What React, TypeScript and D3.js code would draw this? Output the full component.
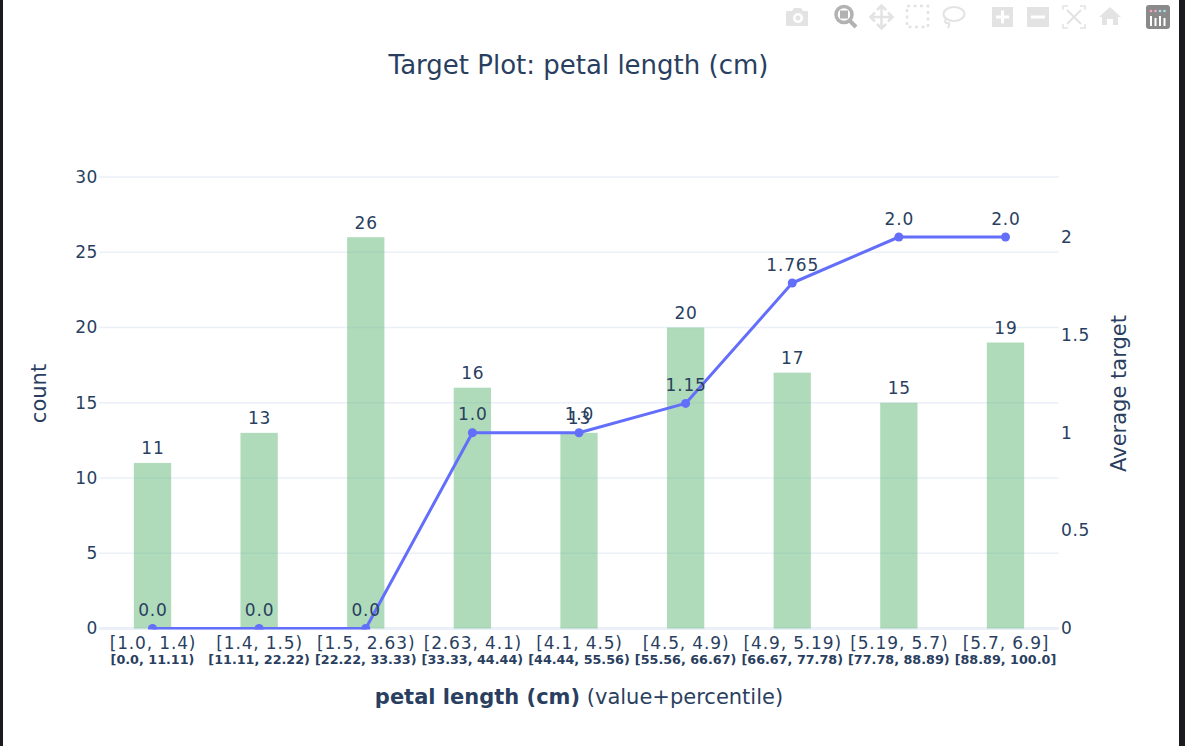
import React from "react";
import * as d3 from "d3";

const binLabels = ["[1.0, 1.4)", "[1.4, 1.5)", "[1.5, 2.63)", "[2.63, 4.1)", "[4.1, 4.5)", "[4.5, 4.9)", "[4.9, 5.19)", "[5.19, 5.7)", "[5.7, 6.9]"];
const percentileLabels = ["[0.0, 11.11)", "[11.11, 22.22)", "[22.22, 33.33)", "[33.33, 44.44)", "[44.44, 55.56)", "[55.56, 66.67)", "[66.67, 77.78)", "[77.78, 88.89)", "[88.89, 100.0]"];
const counts = [11, 13, 26, 16, 13, 20, 17, 15, 19];
const avgTarget = [0, 0, 0, 1, 1, 1.15, 1.765, 2, 2];
const avgLabels = ["0.0", "0.0", "0.0", "1.0", "1.0", "1.15", "1.765", "2.0", "2.0"];
const countTicks = [0, 5, 10, 15, 20, 25, 30];
const targetTicks = [0, 0.5, 1, 1.5, 2];

const INK = "#2a3f5f";
const FONT = "'DejaVu Sans', Verdana, sans-serif";
const ICON = "#e3e3e3";

function Toolbar() {
  return (
    <g>
      {/* camera */}
      <g fill={ICON}>
        <path fillRule="evenodd" d="M787 11h5l2-3h7l2 3h4a1 1 0 0 1 1 1v13a1 1 0 0 1-1 1h-20a1 1 0 0 1-1-1V12a1 1 0 0 1 1-1zM798 13a5 5 0 1 0 .01 0zM798 15.500a2.500 2.500 0 1 1-.01 0z" />
      </g>
      {/* zoom (active) */}
      <g fill="none" stroke="#b2b2b2">
        <circle cx="844" cy="14.500" r="8" strokeWidth="3.500" />
        <rect x="840" y="10.500" width="8" height="8" fill="#b2b2b2" stroke="none" />
        <line x1="850" y1="21" x2="856" y2="27" strokeWidth="4" />
      </g>
      {/* pan */}
      <g fill="none" stroke={ICON} strokeWidth="2.500">
        <line x1="871" y1="17" x2="892" y2="17" />
        <line x1="881.500" y1="6" x2="881.500" y2="28" />
        <path d="M877 10l4.500-4.500 4.500 4.500M877 24l4.500 4.500 4.500-4.500M875 12.500l-4.500 4.500 4.500 4.500M888 12.500l4.500 4.500-4.500 4.500" />
      </g>
      {/* box select */}
      <rect x="907" y="6" width="21" height="21" fill="none" stroke={ICON} strokeWidth="2.500" strokeDasharray="3 3.500" />
      {/* lasso */}
      <g fill="none" stroke={ICON} strokeWidth="2">
        <ellipse cx="954" cy="14" rx="10.500" ry="7" />
        <path d="M946 19c-2 3 0 5 3 4c1 2 0 3-1 5" />
      </g>
      {/* zoom in */}
      <rect x="992" y="7" width="21" height="20" fill={ICON} />
      <path d="M996 17h13M1002.500 10.500v13" stroke="#fff" strokeWidth="3" />
      {/* zoom out */}
      <rect x="1027" y="7" width="22" height="20" fill={ICON} />
      <path d="M1031 17h14" stroke="#fff" strokeWidth="3" />
      {/* autoscale */}
      <g fill="none" stroke={ICON} strokeWidth="1.500">
        <path d="M1063 10V6h5M1080 6h5v4M1085 24v4h-5M1068 28h-5v-4" />
        <path d="M1067 10l14 14M1081 10l-14 14" strokeWidth="2" />
      </g>
      {/* home */}
      <path d="M1110 7l11 10h-3v8h-5v-6h-6v6h-5v-8h-3z" fill={ICON} />
      {/* logo */}
      <rect x="1146" y="5" width="24" height="24" rx="3" fill="#8a8a8a" />
      <g fill="#fff">
        {[1150, 1154.500, 1159, 1163.500].map((x, i) => (
          <rect key={x} x={x} y={i % 2 ? 18 : 16} width="2" height={i % 2 ? 8 : 10} />
        ))}
      </g>
      <g>
        {[1151, 1155.500, 1160, 1164.500].map((x, i) => (
          <circle key={x} cx={x} cy="11" r="1.300" fill={["#f2a6c0", "#f2a6c0", "#a9e0e8", "#a9e0e8"][i]} />
        ))}
      </g>
    </g>
  );
}

export default function App() {
  const x = d3.scaleLinear().domain([-0.5, 8.5]).range([99.200, 1058.800]);
  const yCount = d3.scaleLinear().domain([0, 30]).range([628.500, 177]);
  const yTarget = d3.scaleLinear().domain([0, 2]).range([628.500, 237]);
  const barW = 37.300;
  const idx = d3.range(counts.length);
  const line = d3
    .line<number>()
    .x((i) => x(i))
    .y((i) => yTarget(avgTarget[i]));
  const labelSpacing = 0.85;
  const labelNudge = 0.5;

  return (
    <svg
      width={1185}
      height={746}
      viewBox="0 0 1185 746"
      style={{ position: "fixed", left: 0, top: 0, background: "#fff", fontFamily: FONT }}
    >
      <defs>
        <clipPath id="plotClip">
          <rect x={99} y={100} width={960} height={529.500} />
        </clipPath>
      </defs>
      <rect x={0} y={0} width={3} height={746} fill="#1b1b1f" />
      <rect x={1179} y={0} width={6} height={746} fill="#1b1b1f" />
      <Toolbar />

      <text x={578.500} y={73.500} textAnchor="middle" fontSize={26} fill={INK}>
        Target Plot: petal length (cm)
      </text>

      {/* grid */}
      {countTicks.map((t) => (
        <line key={t} x1={x.range()[0]} x2={x.range()[1]} y1={yCount(t)} y2={yCount(t)} stroke="#ebf0f8" strokeWidth={t === 0 ? 3 : 1.500} />
      ))}

      {/* bars */}
      {idx.map((i) => (
        <rect key={i} x={x(i) - barW / 2} y={yCount(counts[i])} width={barW} height={yCount(0) - yCount(counts[i])} fill="#5fb878" fillOpacity={0.5} />
      ))}
      {idx.map((i) => (
        <text key={i} x={x(i) + labelNudge} y={yCount(counts[i]) - 8.500} textAnchor="middle" fontSize={17} letterSpacing={labelSpacing} fill={INK}>
          {counts[i]}
        </text>
      ))}

      {/* line */}
      <g clipPath="url(#plotClip)">
        <path d={line(idx) ?? ""} fill="none" stroke="#636efa" strokeWidth={3} strokeLinejoin="round" />
        {idx.map((i) => (
          <circle key={i} cx={x(i)} cy={yTarget(avgTarget[i])} r={4.500} fill="#636efa" />
        ))}
      </g>
      {idx.map((i) => (
        <text key={i} x={x(i) + labelNudge} y={yTarget(avgTarget[i]) - 12.500} textAnchor="middle" fontSize={17} letterSpacing={labelSpacing} fill={INK}>
          {avgLabels[i]}
        </text>
      ))}

      {/* left axis */}
      {countTicks.map((t) => (
        <text key={t} x={98} y={yCount(t) + 5.800} textAnchor="end" fontSize={17} letterSpacing={0.6} fill={INK}>
          {t}
        </text>
      ))}
      <text transform="translate(46,393.500) rotate(-90)" textAnchor="middle" fontSize={21} fill={INK}>
        count
      </text>

      {/* right axis */}
      {targetTicks.map((t) => (
        <text key={t} x={1061} y={yTarget(t) + 5.800} fontSize={17} letterSpacing={0.6} fill={INK}>
          {t}
        </text>
      ))}
      <text transform="translate(1125.500,393.500) rotate(-90)" textAnchor="middle" fontSize={21} fill={INK}>
        Average target
      </text>

      {/* x axis */}
      {idx.map((i) => (
        <g key={i}>
          <text x={x(i) + labelNudge} y={649} textAnchor="middle" fontSize={17} letterSpacing={labelSpacing} fill={INK}>
            {binLabels[i]}
          </text>
          <text x={x(i)} y={664} textAnchor="middle" fontSize={12.750} fontWeight="bold" fill={INK}>
            {percentileLabels[i]}
          </text>
        </g>
      ))}
      <text x={579} y={704} textAnchor="middle" fontSize={21} fill={INK}>
        <tspan fontWeight="bold">petal length (cm)</tspan> (value+percentile)
      </text>
    </svg>
  );
}
